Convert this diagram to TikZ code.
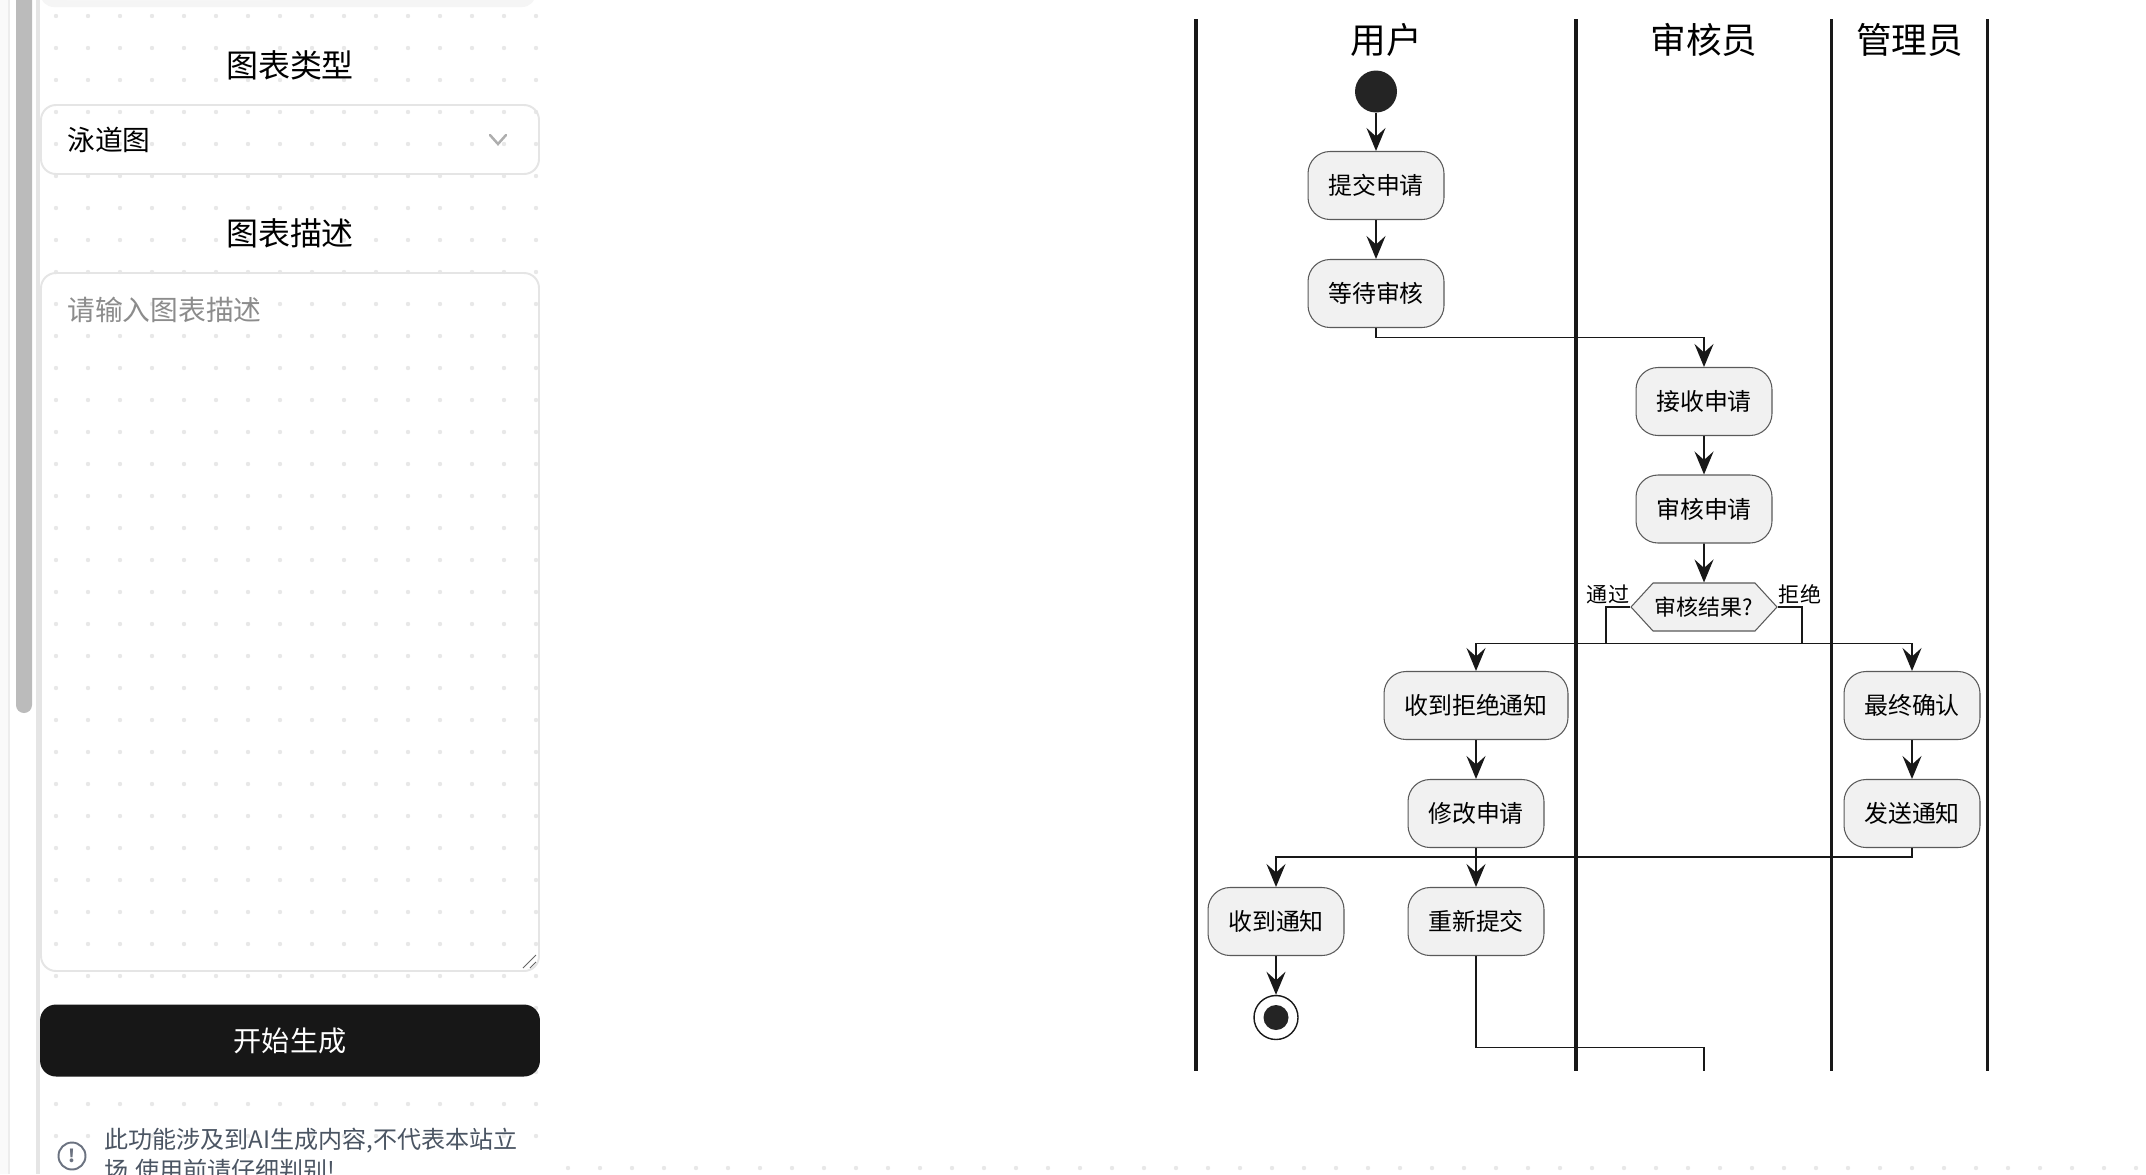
\documentclass[tikz,border=0pt]{standalone}
\usepackage{fontspec}
\usepackage{xcolor}
\usepackage{tikz}
\usetikzlibrary{arrows.meta,shapes.symbols}
\setmainfont{Noto Sans CJK SC}
\definecolor{flowink}{RGB}{24,24,24}
\definecolor{boxfill}{RGB}{241,241,241}
\definecolor{boxedge}{RGB}{90,90,90}
\definecolor{dotgray}{RGB}{232,232,232}
\definecolor{paneledge}{RGB}{229,229,229}
\definecolor{barstrip}{RGB}{187,187,187}
\definecolor{hintgray}{RGB}{140,140,140}
\definecolor{noteink}{RGB}{75,85,99}
\definecolor{noteicon}{RGB}{107,114,128}
\definecolor{btnblack}{RGB}{23,23,23}
\tikzset{
  lane/.style={line width=1.9pt,flowink},
  lanetitle/.style={font=\fontsize{20.3}{20.3}\selectfont,inner sep=0pt},
  actbox/.style={draw=boxedge,fill=boxfill,rounded corners=0.44cm,line width=0.6pt,
    minimum width=2.72cm,minimum height=1.36cm,inner sep=0pt,
    font=\fontsize{13.6}{13.6}\selectfont},
  choice/.style={draw=boxedge,fill=boxfill,line width=0.6pt,signal,signal to=west and east,
    signal pointer angle=95,minimum width=2.92cm,minimum height=0.96cm,inner sep=0pt,
    font=\fontsize{12.5}{12.5}\selectfont},
  guard/.style={font=\fontsize{12}{12}\selectfont,inner sep=0pt},
  flow/.style={line width=1.1pt,flowink,-{Stealth[length=4.6mm,width=3.8mm,inset=1.7mm]}},
  plainflow/.style={line width=1.1pt,flowink},
  panelbox/.style={draw=paneledge,line width=1.1pt,rounded corners=0.3cm},
  paneltitle/.style={font=\fontsize{18.2}{18.2}\selectfont,inner sep=0pt},
  paneltext/.style={font=\fontsize{15.8}{15.8}\selectfont,inner sep=0pt,anchor=west},
  notetext/.style={font=\fontsize{13.7}{13.7}\selectfont,inner sep=0pt,anchor=west,noteink}
}
\begin{document}
\begin{tikzpicture}[x=0.02cm,y=-0.02cm]
  \useasboundingbox (0,0) rectangle (2146,1174);
  \clip (0,0) rectangle (2146,1174);
  \fill[white] (0,0) rectangle (2146,1174);
  % left edge
  \fill[black!2] (0,0) rectangle (8,1174);
  \fill[black!7] (8,0) rectangle (9.5,1174);
  \fill[paneledge] (36,0) rectangle (40,1174);
  \fill[barstrip,rounded corners=0.16cm] (16,-20) rectangle (32,713);
  % dots
  \foreach \r in {0,...,35}{
    \foreach \c in {0,...,15}{
      \fill[dotgray] (56+\c*32,16+\r*32) circle (2.2);
    }
  }
  \foreach \c in {16,...,65}{
    \fill[dotgray] (56+\c*32,1168) circle (2.2);
  }
  % panel
  \fill[black!4,rounded corners=0.28cm] (40,-30) rectangle (536,7);
  \fill[white,rounded corners=0.2cm] (57,-30) rectangle (281,0);
  \node[paneltitle] (typetitle) at (290,65) {图表类型};
  \draw[panelbox] (41,105) rectangle (539,174);
  \node[paneltext] (typevalue) at (67,140) {泳道图};
  \draw[line width=1.4pt,hintgray!70,line cap=round] (490,135) -- (498,144) -- (506,135);
  \node[paneltitle] (desctitle) at (290,233) {图表描述};
  \draw[panelbox] (41,273) rectangle (539,971);
  \node[paneltext,hintgray] (deschint) at (67,310) {请输入图表描述};
  \draw[black!60,line width=0.5pt] (523,968) -- (536,955) (530,968) -- (536,962);
  \node[fill=btnblack,rounded corners=0.32cm,minimum width=10cm,minimum height=1.44cm,
    text=white,font=\fontsize{16}{16}\selectfont,inner sep=0pt] (startbtn) at (290,1040.5) {开始生成};
  \node[circle,draw=noteicon,line width=1.1pt,minimum size=0.54cm,inner sep=0pt,
    text=noteicon,font=\fontsize{10}{10}\selectfont\bfseries] (noteicon) at (72,1156) {!};
  \node[notetext] (noteone) at (104,1141) {此功能涉及到AI生成内容,不代表本站立};
  \node[notetext] (notetwo) at (104,1172) {场,使用前请仔细判别!};
  % lanes
  \foreach \i/\x in {a/1196, b/1576, c/1831.5, d/1987.5}{
    \coordinate (top\i) at (\x,19);
    \coordinate (bot\i) at (\x,1071);
    \draw[lane] (top\i) -- (bot\i);
  }
  \foreach \n/\x/\l in {user/1386.5/用户, auditor/1704/审核员, admin/1909.5/管理员}{
    \node[lanetitle] (\n) at (\x,40) {\l};
  }
  % activities
  \node[circle,fill=flowink!95,minimum size=0.84cm,inner sep=0pt] (start) at (1376,91.5) {};
  \foreach \n/\x/\y/\l in {
    submit/1376/185.5/提交申请, wait/1376/293.5/等待审核,
    receive/1704/401.5/接收申请, audit/1704/509/审核申请,
    confirm/1912/705.5/最终确认, notify/1912/813.5/发送通知,
    amend/1476/813.5/修改申请, resubmit/1476/921.5/重新提交,
    informed/1276/921.5/收到通知}{
    \node[actbox] (\n) at (\x,\y) {\l};
  }
  \node[actbox,minimum width=3.68cm] (rejected) at (1476,705.5) {收到拒绝通知};
  \node[choice] (decide) at (1704,607) {审核结果?};
  \node[guard] (passlabel) at (1608,594) {通过};
  \node[guard] (rejectlabel) at (1800,594) {拒绝};
  \node[circle,draw=flowink,fill=white,line width=0.8pt,minimum size=0.88cm,inner sep=0pt] (stop) at (1276,1017.5) {};
  \node[circle,fill=flowink!95,minimum size=0.5cm,inner sep=0pt] (stopdot) at (stop) {};
  % bends
  \coordinate (bendwait) at (1704,337.5);
  \coordinate (joinleft) at (1606,643.5);
  \coordinate (joinright) at (1802,643.5);
  \coordinate (bendnotify) at (1276,857);
  \coordinate (bendback) at (1704,1047.5);
  \coordinate (looseend) at (1704,1071);
  % connectors
  \draw[flow] (start) -- (submit);
  \draw[flow] (submit) -- (wait);
  \draw[flow] (wait.south) |- (bendwait) -- (receive);
  \draw[flow] (receive) -- (audit);
  \draw[flow] (audit) -- (decide);
  \draw[flow] (decide.west) -| (joinleft) -| (confirm.north);
  \draw[flow] (decide.east) -| (joinright) -| (rejected.north);
  \draw[flow] (confirm) -- (notify);
  \draw[flow] (rejected) -- (amend);
  \draw[flow] (amend) -- (resubmit);
  \draw[flow] (notify.south) |- (bendnotify) -- (informed);
  \draw[flow] (informed) -- (stop);
  \draw[plainflow] (resubmit.south) |- (bendback) -- (looseend);
\end{tikzpicture}
\end{document}
